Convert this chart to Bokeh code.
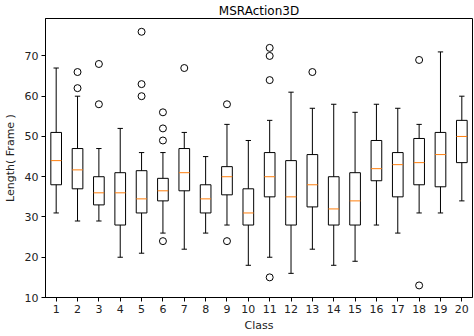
from bokeh.plotting import figure
from bokeh.models import ColumnDataSource, FixedTicker, Range1d
from bokeh.embed import file_html
from bokeh.resources import INLINE

classes = list(range(1, 21))
whisker_low = [31, 29, 29, 20, 21, 26, 22, 26, 28, 18, 20, 16, 22, 18, 19, 28, 26, 31, 31, 34]
q1 = [38, 37, 33, 28, 31, 34, 36.5, 31, 35.5, 28, 35, 28, 32.5, 28, 28, 39, 35, 38, 37.5, 43.5]
median = [44, 41.7, 36, 36, 34.5, 36.5, 41, 34.5, 40, 31, 40, 35, 38, 32, 34, 42, 43, 43.5, 45.5, 50]
q3 = [51, 47, 40, 41, 41.5, 39.6, 47, 38, 42.5, 37, 46, 44, 45.5, 40, 41, 49, 46, 49.5, 51, 54]
whisker_high = [67, 60, 47, 52, 46, 46, 51, 45, 53, 49, 54, 61, 57, 58, 56, 58, 57, 53, 71, 60]
outlier_class = [2, 2, 3, 3, 5, 5, 5, 6, 6, 6, 6, 7, 9, 9, 11, 11, 11, 11, 13, 18, 18]
outlier_value = [66, 62, 68, 58, 76, 63, 60, 56, 52, 49, 24, 67, 58, 24, 72, 70, 64, 15, 66, 69, 13]

box_w = 0.5
cap_w = 0.25

src = ColumnDataSource(dict(
    x=classes,
    left=[c - box_w / 2 for c in classes],
    right=[c + box_w / 2 for c in classes],
    cap_l=[c - cap_w / 2 for c in classes],
    cap_r=[c + cap_w / 2 for c in classes],
    lo=whisker_low, q1=q1, med=median, q3=q3, hi=whisker_high,
))

p = figure(width=474, height=336, output_backend="svg", toolbar_location=None,
           x_range=Range1d(0.5, 20.5), y_range=Range1d(10, 79.3),
           title="MSRAction3D", min_border_left=45, min_border_right=2,
           min_border_top=4, min_border_bottom=39)

font = "DejaVu Sans"

# whiskers
p.segment(x0="x", y0="lo", x1="x", y1="q1", source=src, line_color="black", line_width=1)
p.segment(x0="x", y0="q3", x1="x", y1="hi", source=src, line_color="black", line_width=1)
# caps
p.segment(x0="cap_l", y0="lo", x1="cap_r", y1="lo", source=src, line_color="black", line_width=1)
p.segment(x0="cap_l", y0="hi", x1="cap_r", y1="hi", source=src, line_color="black", line_width=1)
# boxes
p.quad(left="left", right="right", bottom="q1", top="q3", source=src,
       fill_color=None, line_color="black", line_width=1)
# medians
p.segment(x0="left", y0="med", x1="right", y1="med", source=src, line_color="#ff7f0e", line_width=1)
# fliers
p.scatter(outlier_class, outlier_value, marker="circle", size=7, fill_color=None,
          line_color="black", line_width=1)

p.title.align = "center"
p.title.text_font = font
p.title.text_font_size = "12px"
p.title.text_font_style = "normal"
p.title.text_color = "black"
p.title.standoff = 2

p.xgrid.visible = False
p.ygrid.visible = False
p.outline_line_color = "black"
p.outline_line_width = 1
p.outline_line_alpha = 1

p.xaxis.ticker = FixedTicker(ticks=classes)
p.yaxis.ticker = FixedTicker(ticks=[10, 20, 30, 40, 50, 60, 70])
p.xaxis.axis_label = "Class"
p.yaxis.axis_label = "Length( Frame )"
for ax in (p.xaxis, p.yaxis):
    ax.axis_label_text_font = font
    ax.axis_label_text_font_size = "11px"
    ax.axis_label_text_font_style = "normal"
    ax.axis_label_text_color = "#222222"
    ax.major_label_text_font = font
    ax.major_label_text_font_size = "11px"
    ax.major_label_text_color = "#222222"
    ax.minor_tick_line_color = None
    ax.major_tick_in = 0
    ax.major_tick_out = 4
    ax.major_tick_line_color = "black"
    ax.axis_line_color = "black"
    ax.major_label_standoff = 3
p.xaxis.axis_label_standoff = 3
p.yaxis.axis_label_standoff = 5

open("out.html", "w").write(file_html(p, INLINE))
